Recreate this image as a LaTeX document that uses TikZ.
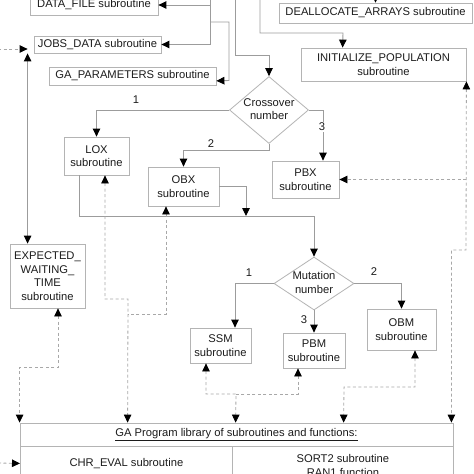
\documentclass[tikz,border=0pt]{standalone}
\usepackage{fontspec}
\setmainfont{Liberation Sans}
\usetikzlibrary{arrows.meta,shapes.geometric,calc}
\definecolor{boxgray}{HTML}{B4B4B4}
\definecolor{linegray}{HTML}{9C9C9C}
\definecolor{dshgray}{HTML}{A8A8A8}
\definecolor{txt}{HTML}{1C1C1C}
\newcommand\myfs{\fontsize{11.2}{13.5}\selectfont}
\tikzset{
  box/.style={draw=boxgray, line width=0.8pt, inner sep=1pt, align=center, text=txt, font=\myfs},
  dia/.style={diamond, draw=boxgray, line width=0.8pt, inner sep=0pt},
  conn/.style={draw=linegray, line width=0.9pt},
  dsh/.style={draw=dshgray, line width=0.8pt, dash pattern=on 3pt off 2.5pt},
  tip/.style={-{Triangle[length=8pt,width=7.5pt,color=black]}},
  rtip/.style={{Triangle[length=8pt,width=7.5pt,color=black]}-},
  tips/.style={{Triangle[length=8pt,width=7.5pt,color=black]}-{Triangle[length=8pt,width=7.5pt,color=black]}},
  lbl/.style={font=\myfs, text=txt, inner sep=1pt, align=center},
}
\begin{document}
\begin{tikzpicture}[x=1pt,y=-1pt]
\useasboundingbox (0,0) rectangle (474,474);
\clip (0,0) rectangle (474,474);
\fill[white] (0,0) rectangle (474,474);

% boxes
\node[box, minimum width=128pt, minimum height=20pt] (datafile) at (94,5) {DATA\_FILE subroutine};
\node[box, minimum width=127pt, minimum height=17pt] (jobs) at (97.5,44.5) {JOBS\_DATA subroutine};
\node[box, minimum width=167pt, minimum height=18pt] (gaparam) at (132.5,76) {GA\_PARAMETERS subroutine};
\node[box, minimum width=193pt, minimum height=20pt] (dealloc) at (375.5,13) {DEALLOCATE\_ARRAYS subroutine};
\node[box, minimum width=165pt, minimum height=33pt] (init) at (383.5,64.5) {INITIALIZE\_POPULATION\\subroutine};
\node[dia, minimum width=79pt, minimum height=67pt] (cross) at (269,110) {};
\node[lbl] (crossT) at (269,109) {Crossover\\number};
\node[box, minimum width=65pt, minimum height=38pt] (lox) at (96.5,156) {LOX\\subroutine};
\node[box, minimum width=71pt, minimum height=39pt] (obx) at (183.5,186.5) {OBX\\subroutine};
\node[box, minimum width=67pt, minimum height=37pt] (pbx) at (305.5,179.5) {PBX\\subroutine};
\node[box, minimum width=75pt, minimum height=64pt] (ewt) at (47.5,276) {EXPECTED\_\\WAITING\_\\TIME\\subroutine};
\node[dia, minimum width=80pt, minimum height=53pt] (mut) at (314,283.5) {};
\node[lbl] (mutT) at (314,282.5) {Mutation\\number};
\node[box, minimum width=61pt, minimum height=35pt] (ssm) at (220.5,345.5) {SSM\\subroutine};
\node[box, minimum width=62pt, minimum height=35pt] (pbm) at (314,350.5) {PBM\\subroutine};
\node[box, minimum width=69pt, minimum height=41pt] (obm) at (401.5,329.5) {OBM\\subroutine};
\node[box, minimum width=433pt, minimum height=23pt] (lib) at (236.5,434.5) {\underline{GA Program library of subroutines and functions:}};
\node[box, minimum width=212pt, minimum height=34pt, anchor=north west] (chr) at (20,446) {CHR\_EVAL subroutine};
\node[box, minimum width=221pt, minimum height=38pt, anchor=north west] (sort) at (232,446) {SORT2 subroutine\\RAN1 function};

% top connectors
\coordinate (tA) at (210,-6);
\coordinate (bA) at (210,22);
\coordinate (tB) at (235,-6);
\coordinate (tC) at (260,-6);
\coordinate (tD) at (375.5,-10);
\draw[conn,tip] (tA) |- (datafile.east);
\draw[conn,tip] (tA) |- (jobs.east);
\draw[conn,tip] (bA) -| (229,80.5) -- ($(gaparam.south east)+(0,-4.5)$);
\draw[conn,tip] (tB) |- (269,55) -- (cross.north);
\draw[conn,tip] (tC) |- (343,33) -- ($(init.north west)+(42,0)$);
\draw[conn,tip] (tD) -- (dealloc.north);

% crossover
\draw[conn,tip] (cross.west) -| (lox.north);
\draw[conn,tip] (cross.south) -- ++(0,7) -| (obx.north);
\draw[conn,tip] (cross.east) -| ($(pbx.north)+(17.5,0)$);

% merge to mutation
\coordinate (j1) at (314,216);
\draw[conn] ($(lox.south west)+(16,0)$) |- (j1);
\draw[conn,tip] (j1) -- (mut.north);
\draw[conn,tip] (obx.east) -| ($(j1)+(-68,0)$);

% mutation
\draw[conn,tip] (mut.west) -| ($(ssm.north)+(14.5,0)$);
\draw[conn,tip] (mut.south) -- (pbm.north);
\draw[conn,tip] (mut.east) -| (obm.north);

% jobs <-> ewt
\draw[conn,tips] ($(ewt.north west)+(18,0)$) -- ($(jobs.south west)+(-6,0)$);

% dashed
\coordinate (lin) at (-2,49);
\draw[dsh,tip] (lin) -- ($(jobs.west)+(-6,4.5)$);
\coordinate (lin2) at (-2,463);
\draw[dsh,tip] (lin2) -- (chr.west);
\draw[dsh,tips] ($(ewt.south)+(10.5,0)$) -- ++(0,59) -| (lib.north west);
\coordinate (j2) at (128,299);
\draw[dsh,tips] ($(lox.south)+(8.5,0)$) |- (j2) -- ($(lib.north west)+(108,0)$);
\draw[dsh,rtip] ($(obx.south)+(-17.5,0)$) |- ($(j2)+(0,15)$);
\coordinate (j3) at (236,394);
\draw[dsh,tips] ($(ssm.south)+(-14.5,0)$) |- (j3) -- ($(lib.north west)+(216,0)$);
\draw[dsh,rtip] ($(pbm.south)+(-16,0)$) |- (j3);
\coordinate (j4) at (344,387);
\draw[dsh,tips] ($(obm.south)+(13.5,0)$) |- (j4) -- ($(lib.north west)+(324,0)$);
\coordinate (j5) at (466,250);
\draw[dsh,tips] (init.south east) -- (j5) -| ($(lib.north east)+(-2,0)$);
\draw[dsh,tip] (init.south east |- pbx.east) -- (pbx.east);

% labels
\node[lbl] (l1) at (136,100) {1};
\node[lbl] (l2) at (211,144) {2};
\node[lbl, fill=white] (l3) at (322,127) {3};
\node[lbl] (m1) at (249,273) {1};
\node[lbl] (m3) at (304,320) {3};
\node[lbl] (m2) at (374,272) {2};
\end{tikzpicture}
\end{document}
